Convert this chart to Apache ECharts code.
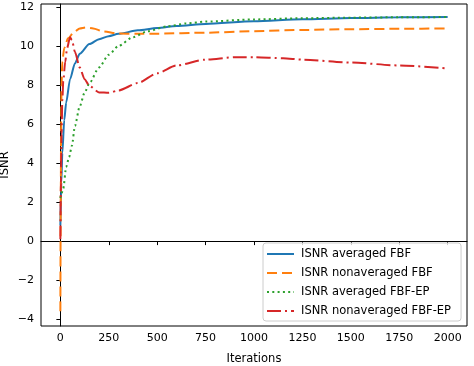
<!DOCTYPE html>
<html>
<head>
<meta charset="utf-8">
<script src="https://cdn.jsdelivr.net/npm/echarts@6/dist/echarts.min.js"></script>
<style>
  html, body { margin: 0; padding: 0; background: #fff; }
  #chart { width: 474px; height: 366px; }
</style>
</head>
<body>
<div id="chart"></div>
<script>
// Datos
const seriesNames = ['ISNR averaged FBF', 'ISNR nonaveraged FBF', 'ISNR averaged FBF-EP', 'ISNR nonaveraged FBF-EP'];

const avgFbfIter = [0, 5, 10, 20, 30, 50, 75, 100, 150, 200, 250, 300, 400, 500, 600, 750, 1000, 1250, 1500, 1750, 2000];
const avgFbfIsnr = [0.8, 3.0, 4.5, 6.2, 7.1, 8.3, 9.1, 9.6, 10.1, 10.35, 10.5, 10.62, 10.8, 10.92, 11.02, 11.13, 11.27, 11.37, 11.43, 11.47, 11.48];

const nonavgFbfIter = [0, 2, 4, 6, 10, 20, 40, 70, 100, 130, 170, 220, 300, 400, 500, 750, 1000, 1250, 1500, 1750, 2000];
const nonavgFbfIsnr = [-3.6, 2.0, 6.0, 8.0, 9.2, 9.9, 10.4, 10.7, 10.9, 10.95, 10.9, 10.75, 10.64, 10.62, 10.63, 10.68, 10.76, 10.82, 10.86, 10.88, 10.9];

const avgEpIter = [0, 5, 15, 30, 45, 60, 75, 100, 125, 150, 200, 250, 300, 375, 450, 550, 650, 750, 1000, 1250, 1500, 1750, 2000];
const avgEpIsnr = [2.2, 2.4, 2.7, 3.8, 4.3, 4.9, 5.9, 6.9, 7.6, 8.1, 8.9, 9.55, 10.0, 10.45, 10.75, 11.0, 11.15, 11.25, 11.36, 11.42, 11.45, 11.47, 11.48];

const nonavgEpIter = [0, 3, 6, 10, 15, 25, 35, 50, 60, 75, 100, 125, 150, 200, 250, 300, 400, 500, 600, 750, 900, 1000, 1150, 1250, 1500, 1750, 2000];
const nonavgEpIsnr = [0.1, 3.0, 5.5, 7.2, 8.2, 9.2, 9.9, 10.45, 10.3, 9.7, 8.9, 8.3, 7.95, 7.62, 7.6, 7.72, 8.1, 8.6, 9.0, 9.3, 9.42, 9.42, 9.37, 9.3, 9.15, 9.0, 8.85];

const xTicks = [0, 250, 500, 750, 1000, 1250, 1500, 1750, 2000];
const yTicks = [-4, -2, 0, 2, 4, 6, 8, 10, 12];

function pairs(xs, ys) {
    return xs.map((x, i) => [x, ys[i]]);
}

const chart = echarts.init(document.getElementById('chart'));

const font = 'DejaVu Sans';

function lineSeries(name, data, color, dash) {
    return {
        name: name,
        type: 'line',
        data: data,
        symbol: 'none',
        smooth: 0.25,
        smoothMonotone: 'x',
        lineStyle: { color: color, width: 2, type: dash },
        itemStyle: { color: color },
        animation: false
    };
}

chart.setOption({
    backgroundColor: '#ffffff',
    grid: {
        left: 41, right: 7, top: 4, bottom: 40,
        outerBoundsMode: 'none', containLabel: false,
        show: true, borderColor: '#000', borderWidth: 1
    },
    xAxis: {
        type: 'value',
        min: -100,
        max: 2100,
        name: 'Iterations',
        nameLocation: 'middle',
        nameGap: 27,
        nameTextStyle: { fontFamily: font, fontSize: 11.5, color: '#000' },
        axisLine: { show: true, lineStyle: { color: '#000', width: 1 } },
        axisTick: { show: true, inside: false, length: 4, customValues: xTicks, lineStyle: { color: '#000' } },
        axisLabel: {
            customValues: xTicks, fontFamily: font, fontSize: 11, color: '#000', margin: 7,
            formatter: v => String(v)
        },
        splitLine: { show: false }
    },
    yAxis: {
        type: 'value',
        min: -4.35,
        max: 12.15,
        name: 'ISNR',
        nameLocation: 'middle',
        nameGap: 30,
        nameMoveOverlap: false,
        nameTextStyle: { fontFamily: font, fontSize: 11.5, color: '#000' },
        axisLine: { show: true, lineStyle: { color: '#000', width: 1 } },
        axisTick: { show: true, inside: false, length: 4, customValues: yTicks, lineStyle: { color: '#000' } },
        axisLabel: {
            customValues: yTicks,
            fontFamily: font, fontSize: 11, color: '#000', margin: 7,
            formatter: v => (v < 0 ? '\u2212' + Math.abs(v) : String(v))
        },
        splitLine: { show: false }
    },
    legend: {
        orient: 'vertical',
        left: 263,
        top: 243,
        itemWidth: 27,
        itemHeight: 10,
        itemGap: 7,
        padding: [5, 10, 4, 3],
        borderColor: '#cccccc',
        borderWidth: 1,
        borderRadius: 3,
        backgroundColor: 'rgba(255,255,255,0.8)',
        itemStyle: { opacity: 0 },
        textStyle: { fontFamily: font, fontSize: 11.5, color: '#000', padding: [0, 0, 0, 2] },
        data: seriesNames
    },
    series: [
        lineSeries(seriesNames[0], pairs(avgFbfIter, avgFbfIsnr), '#1f77b4', 'solid'),
        lineSeries(seriesNames[1], pairs(nonavgFbfIter, nonavgFbfIsnr), '#ff7f0e', [10, 5]),
        lineSeries(seriesNames[2], pairs(avgEpIter, avgEpIsnr), '#2ca02c', [2, 3.3]),
        lineSeries(seriesNames[3], pairs(nonavgEpIter, nonavgEpIsnr), '#d62728', [14, 4, 2, 4])
    ]
});
</script>
</body>
</html>
